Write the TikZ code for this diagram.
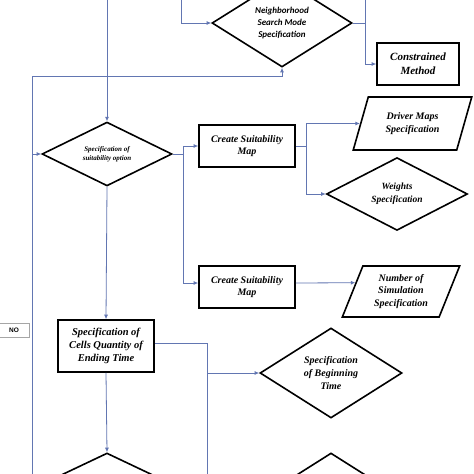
\documentclass[tikz,border=0pt]{standalone}
\usepackage{fontspec}
\setmainfont{Liberation Serif}
\newfontfamily\calibfont{Carlito}
\newfontfamily\nofont{Liberation Sans}
\usetikzlibrary{shapes.geometric,arrows.meta,calc}
\definecolor{linkblue}{RGB}{98,118,178}
\begin{document}
\begin{tikzpicture}[x=1pt,y=-1pt,
  shapeline/.style={draw=black,line width=1.6pt,fill=white,align=center,inner sep=0pt,
    font=\bfseries\itshape\fontsize{10}{12.5}\selectfont},
  procbox/.style={shapeline,rectangle,minimum width=96pt,minimum height=42pt},
  decision/.style={shapeline,diamond},
  iobox/.style={shapeline,trapezium,trapezium left angle=67,trapezium right angle=113,
    trapezium stretches=true},
  link/.style={draw=linkblue,line width=0.8pt},
  arr/.style={link,-{Latex[length=4.5pt,width=4pt]}}]
\useasboundingbox (0,0) rectangle (474,474);
\clip (0,0) rectangle (474,474);
\fill[white] (0,0) rectangle (474,474);

% nodes
\node[decision,minimum width=140pt,minimum height=88pt,
  font=\calibfont\bfseries\itshape\fontsize{9}{12}\selectfont] (nbh) at (282,23)
  {Neighborhood\\Search Mode\\Specification};
\node[procbox,minimum width=82pt,minimum height=42pt,
  font=\bfseries\itshape\fontsize{11}{14}\selectfont] (cons) at (418,64) {Constrained\\Method};
\node[decision,minimum width=130pt,minimum height=62pt,
  font=\bfseries\itshape\fontsize{7}{9}\selectfont] (suit) at (107,154)
  {Specification of\\suitability option};
\node[procbox] (csm1) at (247,146) {Create Suitability\\Map};
\node[iobox,minimum width=119pt,minimum height=53pt] (dms) at (412.5,123.5)
  {Driver Maps\\Specification};
\node[decision,minimum width=141pt,minimum height=72pt,
  font=\bfseries\itshape\fontsize{9.5}{13}\selectfont] (wts) at (397,194) {Weights\\Specification};
\node[procbox] (csm2) at (247,287) {Create Suitability\\Map};
\node[iobox,minimum width=118pt,minimum height=51pt] (nss) at (401,291.5)
  {Number of\\Simulation\\Specification};
\node[procbox,minimum height=52pt,
  font=\bfseries\itshape\fontsize{10.5}{13}\selectfont] (cqe) at (106,346)
  {Specification of\\Cells Quantity of\\Ending Time};
\node[decision,minimum width=142pt,minimum height=90pt,
  font=\bfseries\itshape\fontsize{10}{13}\selectfont] (beg) at (331,373)
  {Specification\\of Beginning\\Time};
\node[decision,minimum width=130pt,minimum height=62pt] (bl) at (107,484) {};
\node[decision,minimum width=142pt,minimum height=90pt] (br) at (331,498) {};
\node[draw=gray!70,line width=0.6pt,minimum width=30pt,minimum height=14pt,inner sep=0pt,
  font=\nofont\bfseries\fontsize{6.5}{8}\selectfont] (no) at (14,330) {NO};

% connectors
\coordinate (t1) at (181,0);
\coordinate (t2) at (365,0);
\coordinate (t3) at (107,0);
\coordinate (lt) at (32,76);
\coordinate (lb) at (32,474);
\coordinate (s1) at (183,154);
\coordinate (s2) at (306,146);
\coordinate (b3) at (207,474);

\draw[arr] (t1) |- (nbh.west);
\draw[link] (nbh.east) -- (nbh.east -| t2);
\draw[arr] (t2) |- (cons.west);
\draw[link] (lb) -- (lt);
\draw[arr] (lt) -| (nbh.south);
\draw[arr] (lb |- suit.west) -- (suit.west);
\draw[arr] (t3) -- (suit.north);
\draw[link] (suit.east) -- (s1);
\draw[arr] (s1) |- (csm1.west);
\draw[arr] (s1) |- ([yshift=4pt]csm2.west);
\draw[link] (csm1.east) -- (s2);
\draw[arr] (s2) |- (dms);
\draw[arr] (s2) |- (wts.west);
\coordinate (nsin) at ($(nss.bottom left corner)!0.667!(nss.top left corner)$);
\draw[arr] ([yshift=4pt]csm2.east) -- (nsin);
\draw[arr] (suit.south) -- (cqe.north);
\draw[link] ([yshift=3pt]cqe.east) -- ([yshift=3pt]cqe.east -| b3) -- (b3);
\draw[arr] (b3 |- beg.west) -- (beg.west);
\draw[arr] (cqe.south) -- (bl.north);
\end{tikzpicture}
\end{document}
